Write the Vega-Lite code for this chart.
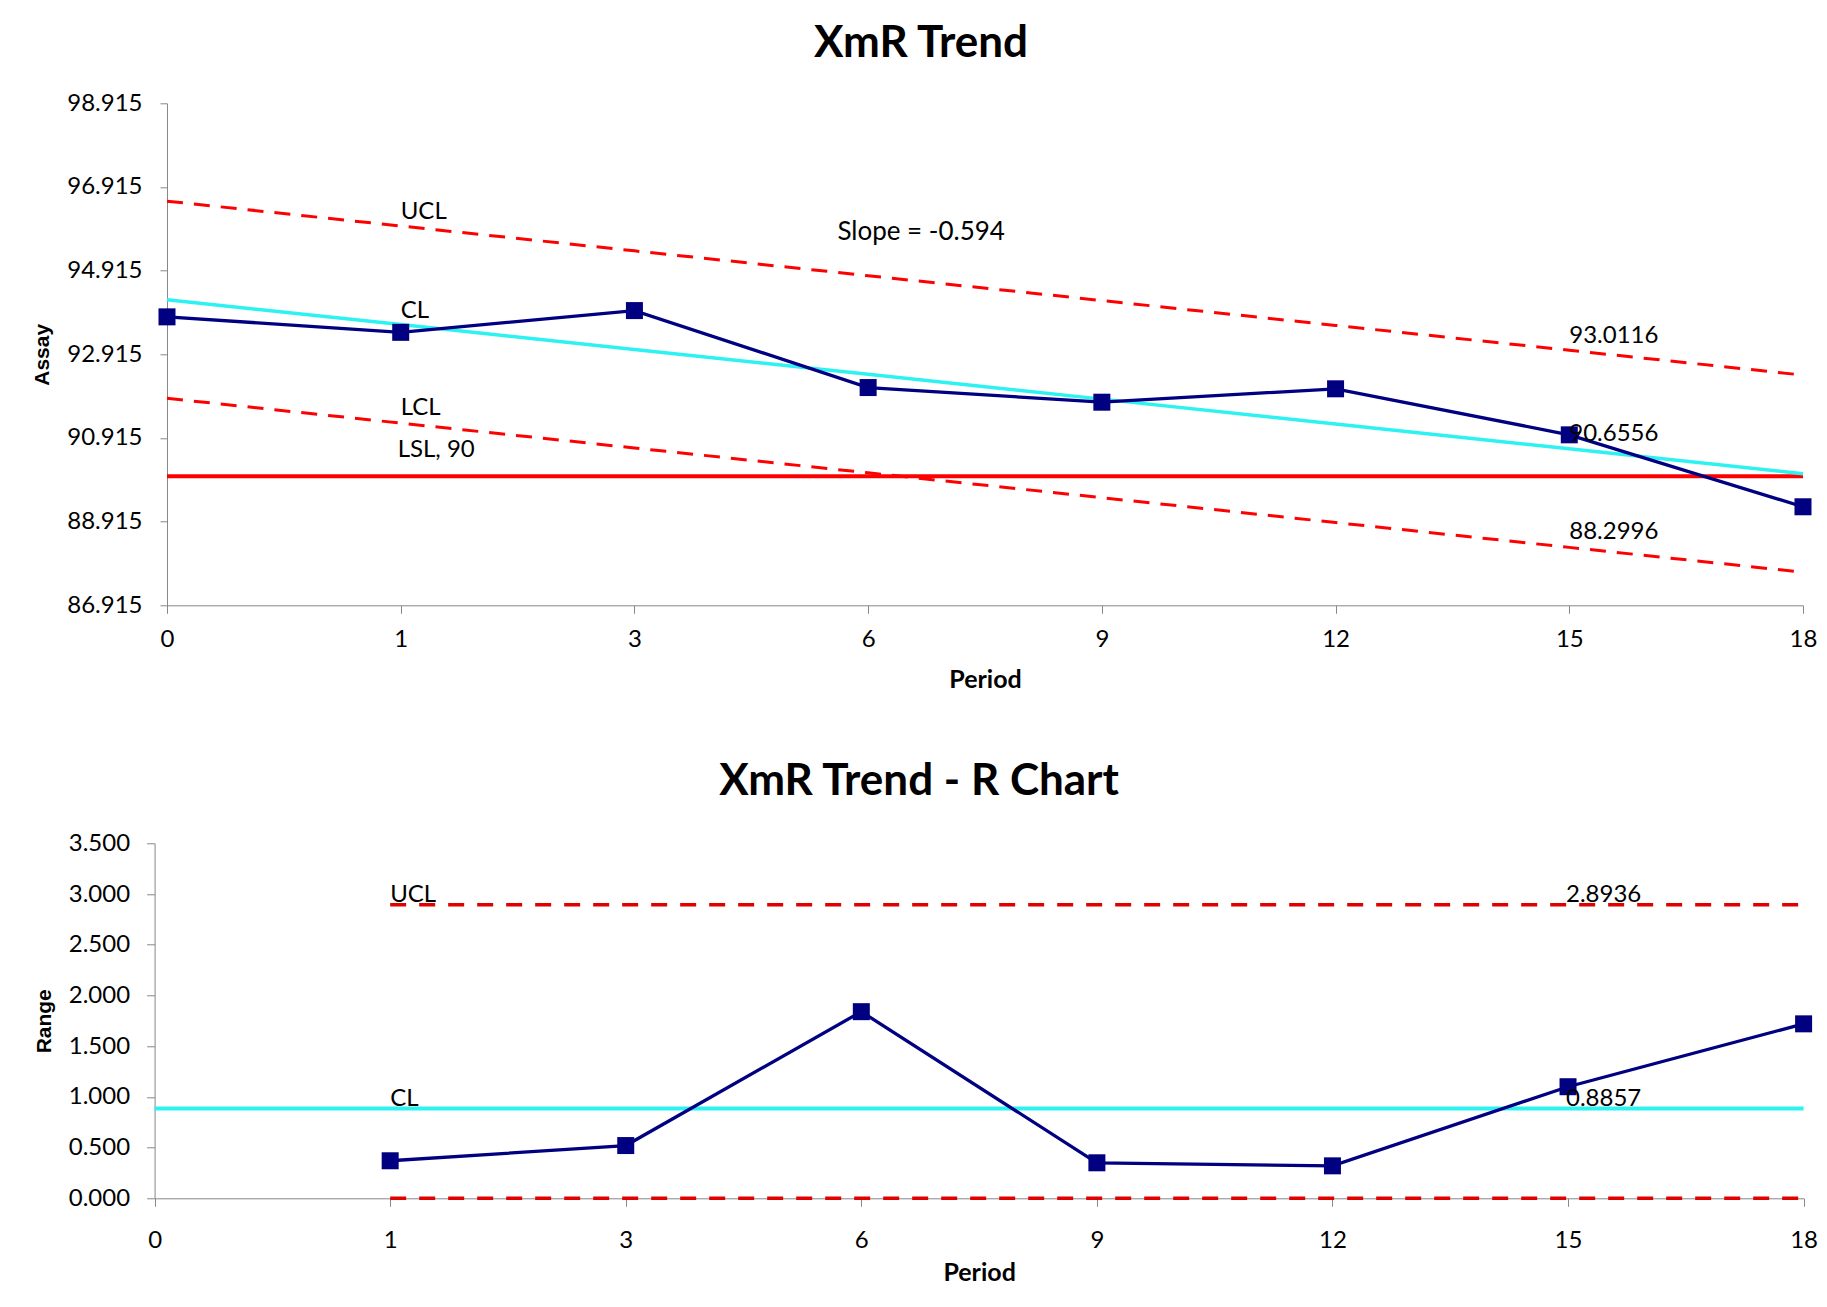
{
  "$schema": "https://vega.github.io/schema/vega-lite/v6.json",
  "background": "white",
  "padding": {"left": 31, "top": 22.3, "right": 0, "bottom": 0},
  "spacing": 67,
  "vconcat": [
    {
      "title": {"text": "XmR Trend", "font": "Lato", "fontSize": 44, "fontWeight": "bold", "anchor": "middle", "offset": 25, "dx": -64, "color": "black"},
      "width": 1636,
      "height": 502,
      "data": {
        "values": [
          {"period": "0", "assay": 93.81, "cl": 94.2196, "ucl": 96.5756, "lcl": 91.8636, "lsl": 90},
          {"period": "1", "assay": 93.44, "cl": 93.6256, "ucl": 95.9816, "lcl": 91.2696, "lsl": 90},
          {"period": "3", "assay": 93.96, "cl": 93.0316, "ucl": 95.3876, "lcl": 90.6756, "lsl": 90},
          {"period": "6", "assay": 92.12, "cl": 92.4376, "ucl": 94.7936, "lcl": 90.0816, "lsl": 90},
          {"period": "9", "assay": 91.77, "cl": 91.8436, "ucl": 94.1996, "lcl": 89.4876, "lsl": 90},
          {"period": "12", "assay": 92.09, "cl": 91.2496, "ucl": 93.6056, "lcl": 88.8936, "lsl": 90},
          {"period": "15", "assay": 90.99, "cl": 90.6556, "ucl": 93.0116, "lcl": 88.2996, "lsl": 90},
          {"period": "18", "assay": 89.27, "cl": 90.0616, "ucl": 92.4176, "lcl": 87.7056, "lsl": 90}
        ]
      },
      "encoding": {
        "x": {
          "field": "period",
          "type": "ordinal",
          "sort": ["0", "1", "3", "6", "9", "12", "15", "18"],
          "scale": {"type": "point", "padding": 0},
          "axis": {"title": "Period", "labelAngle": 0, "titlePadding": 16, "labelPadding": 14.7}
        }
      },
      "layer": [
        {
          "mark": {"type": "line", "color": "#FF0000", "strokeWidth": 3, "strokeDash": [16, 11]},
          "encoding": {
            "y": {
              "field": "ucl",
              "type": "quantitative",
              "scale": {"domain": [86.915, 98.915], "nice": false, "zero": false},
              "axis": {
                "title": "Assay",
                "values": [86.915, 88.915, 90.915, 92.915, 94.915, 96.915, 98.915],
                "format": ".3f",
                "titleFont": "Liberation Sans",
                "titleFontSize": 21,
                "titlePadding": 14,
                "labelPadding": 18,
                "tickSize": 7
              }
            }
          }
        },
        {
          "mark": {"type": "line", "color": "#FF0000", "strokeWidth": 3, "strokeDash": [16, 11]},
          "encoding": {"y": {"field": "lcl", "type": "quantitative"}}
        },
        {
          "mark": {"type": "line", "color": "#FF0000", "strokeWidth": 4},
          "encoding": {"y": {"field": "lsl", "type": "quantitative"}}
        },
        {
          "mark": {"type": "line", "color": "#2EF2F2", "strokeWidth": 3.5},
          "encoding": {"y": {"field": "cl", "type": "quantitative"}}
        },
        {
          "mark": {
            "type": "line",
            "color": "#000080",
            "strokeWidth": 3.3,
            "point": {"filled": true, "shape": "square", "size": 289, "color": "#000080", "opacity": 1}
          },
          "encoding": {"y": {"field": "assay", "type": "quantitative"}}
        },
        {
          "transform": [{"filter": "datum.period == '1'"}],
          "mark": {"type": "text", "align": "left", "baseline": "alphabetic", "dy": -7, "font": "Lato", "fontSize": 24},
          "encoding": {"y": {"field": "ucl", "type": "quantitative"}, "text": {"value": "UCL"}}
        },
        {
          "transform": [{"filter": "datum.period == '1'"}],
          "mark": {"type": "text", "align": "left", "baseline": "alphabetic", "dy": -7, "font": "Lato", "fontSize": 24},
          "encoding": {"y": {"field": "cl", "type": "quantitative"}, "text": {"value": "CL"}}
        },
        {
          "transform": [{"filter": "datum.period == '1'"}],
          "mark": {"type": "text", "align": "left", "baseline": "alphabetic", "dy": -8, "font": "Lato", "fontSize": 24},
          "encoding": {"y": {"field": "lcl", "type": "quantitative"}, "text": {"value": "LCL"}}
        },
        {
          "transform": [{"filter": "datum.period == '1'"}],
          "mark": {"type": "text", "align": "left", "baseline": "alphabetic", "dx": -3, "dy": -19, "font": "Lato", "fontSize": 24},
          "encoding": {"y": {"field": "lsl", "type": "quantitative"}, "text": {"value": "LSL, 90"}}
        },
        {
          "transform": [{"filter": "datum.period == '15'"}],
          "mark": {"type": "text", "align": "left", "baseline": "alphabetic", "dy": -7, "font": "Lato", "fontSize": 24},
          "encoding": {"y": {"field": "ucl", "type": "quantitative"}, "text": {"field": "ucl", "format": ".4f"}}
        },
        {
          "transform": [{"filter": "datum.period == '15'"}],
          "mark": {"type": "text", "align": "left", "baseline": "alphabetic", "dy": -8, "font": "Lato", "fontSize": 24},
          "encoding": {"y": {"field": "cl", "type": "quantitative"}, "text": {"field": "cl", "format": ".4f"}}
        },
        {
          "transform": [{"filter": "datum.period == '15'"}],
          "mark": {"type": "text", "align": "left", "baseline": "alphabetic", "dy": -8, "font": "Lato", "fontSize": 24},
          "encoding": {"y": {"field": "lcl", "type": "quantitative"}, "text": {"field": "lcl", "format": ".4f"}}
        },
        {
          "transform": [{"filter": "datum.period == '6'"}],
          "mark": {"type": "text", "align": "center", "baseline": "alphabetic", "dx": 53, "font": "Lato", "fontSize": 26},
          "encoding": {"y": {"datum": 95.64}, "text": {"value": "Slope = -0.594"}}
        }
      ]
    },
    {
      "title": {"text": "XmR Trend - R Chart", "font": "Lato", "fontSize": 44, "fontWeight": "bold", "anchor": "middle", "offset": 27, "dx": -66, "color": "black"},
      "width": 1636,
      "height": 355,
      "data": {
        "values": [
          {"period": "0", "cl": 0.8857},
          {"period": "1", "range": 0.37, "cl": 0.8857, "ucl": 2.8936, "lcl": 0},
          {"period": "3", "range": 0.52, "cl": 0.8857, "ucl": 2.8936, "lcl": 0},
          {"period": "6", "range": 1.84, "cl": 0.8857, "ucl": 2.8936, "lcl": 0},
          {"period": "9", "range": 0.35, "cl": 0.8857, "ucl": 2.8936, "lcl": 0},
          {"period": "12", "range": 0.32, "cl": 0.8857, "ucl": 2.8936, "lcl": 0},
          {"period": "15", "range": 1.10, "cl": 0.8857, "ucl": 2.8936, "lcl": 0},
          {"period": "18", "range": 1.72, "cl": 0.8857, "ucl": 2.8936, "lcl": 0}
        ]
      },
      "encoding": {
        "x": {
          "field": "period",
          "type": "ordinal",
          "sort": ["0", "1", "3", "6", "9", "12", "15", "18"],
          "scale": {"type": "point", "padding": 0, "range": [-12.4, 1636.6]},
          "axis": {"title": "Period", "labelAngle": 0, "titlePadding": 8.7, "labelPadding": 22}
        }
      },
      "layer": [
        {
          "mark": {"type": "line", "color": "#E00000", "strokeWidth": 3.5, "strokeDash": [16, 13]},
          "encoding": {
            "y": {
              "field": "ucl",
              "type": "quantitative",
              "scale": {"domain": [0, 3.5], "nice": false},
              "axis": {
                "title": "Range",
                "values": [0, 0.5, 1, 1.5, 2, 2.5, 3, 3.5],
                "format": ".3f",
                "offset": 12.4,
                "titleFont": "Liberation Sans",
                "titleFontSize": 21,
                "titlePadding": 14,
                "labelPadding": 17,
                "tickSize": 8
              }
            }
          }
        },
        {
          "mark": {"type": "line", "color": "#E00000", "strokeWidth": 3.5, "strokeDash": [16, 13]},
          "encoding": {"y": {"field": "lcl", "type": "quantitative"}}
        },
        {
          "mark": {"type": "line", "color": "#2EF2F2", "strokeWidth": 4},
          "encoding": {"y": {"field": "cl", "type": "quantitative"}}
        },
        {
          "mark": {
            "type": "line",
            "color": "#000080",
            "strokeWidth": 3.3,
            "point": {"filled": true, "shape": "square", "size": 289, "color": "#000080", "opacity": 1}
          },
          "encoding": {"y": {"field": "range", "type": "quantitative"}}
        },
        {
          "transform": [{"filter": "datum.period == '1'"}],
          "mark": {"type": "text", "align": "left", "baseline": "alphabetic", "dy": -2.5, "font": "Lato", "fontSize": 24},
          "encoding": {"y": {"field": "ucl", "type": "quantitative"}, "text": {"value": "UCL"}}
        },
        {
          "transform": [{"filter": "datum.period == '1'"}],
          "mark": {"type": "text", "align": "left", "baseline": "alphabetic", "dy": -2.5, "font": "Lato", "fontSize": 24},
          "encoding": {"y": {"field": "cl", "type": "quantitative"}, "text": {"value": "CL"}}
        },
        {
          "transform": [{"filter": "datum.period == '15'"}],
          "mark": {"type": "text", "align": "left", "baseline": "alphabetic", "dx": -2, "dy": -2.5, "font": "Lato", "fontSize": 24},
          "encoding": {"y": {"field": "ucl", "type": "quantitative"}, "text": {"field": "ucl", "format": ".4f"}}
        },
        {
          "transform": [{"filter": "datum.period == '15'"}],
          "mark": {"type": "text", "align": "left", "baseline": "alphabetic", "dx": -2, "dy": -2.5, "font": "Lato", "fontSize": 24},
          "encoding": {"y": {"field": "cl", "type": "quantitative"}, "text": {"field": "cl", "format": ".4f"}}
        }
      ]
    }
  ],
  "config": {
    "view": {"stroke": null},
    "axis": {
      "grid": false,
      "domainColor": "#888888",
      "tickColor": "#888888",
      "tickSize": 8,
      "labelFont": "Lato",
      "labelFontSize": 24,
      "labelColor": "black",
      "titleFont": "Lato",
      "titleFontSize": 25,
      "titleFontWeight": "bold",
      "titleColor": "black"
    },
    "text": {"color": "black"}
  }
}
